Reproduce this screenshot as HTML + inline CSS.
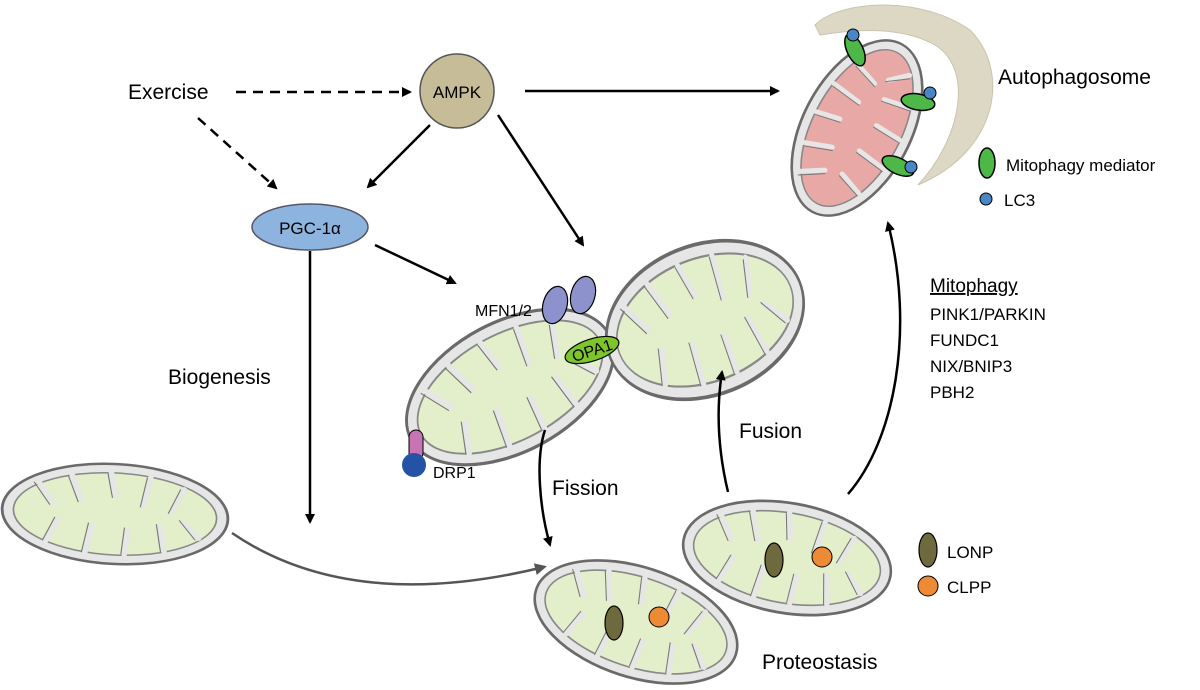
<!DOCTYPE html>
<html><head><meta charset="utf-8"><style>
html,body{margin:0;padding:0;background:#fff;}
svg{display:block;font-family:"Liberation Sans",Arial,sans-serif;}
</style></head><body>
<svg width="1200" height="690" viewBox="0 0 1200 690" xmlns="http://www.w3.org/2000/svg">
<defs>
<marker id="ah" markerWidth="10" markerHeight="10" refX="8" refY="5" orient="auto" markerUnits="userSpaceOnUse" viewBox="0 0 10 10"><path d="M0,0 L10,5 L0,10 z" fill="#000"/></marker>
<marker id="ahg" markerWidth="12" markerHeight="12" refX="9" refY="6" orient="auto" markerUnits="userSpaceOnUse" viewBox="0 0 12 12"><path d="M0,0 L12,6 L0,12 z" fill="#555"/></marker>
<g id="mito">
<ellipse cx="0" cy="0" rx="100" ry="50" fill="#e6e6e6" stroke="#6a6a6a" stroke-width="2.5"/>
<ellipse cx="0" cy="0" rx="90" ry="41" fill="var(--c,#e3eecb)" stroke="#888" stroke-width="1.5"/>
<g stroke="#e6e6e6" stroke-width="5" stroke-linecap="round" fill="none">
<path d="M-70,-30 L-55,-8"/><path d="M-40,-38 L-30,-12"/><path d="M-5,-41 L0,-18"/><path d="M30,-38 L25,-10"/><path d="M60,-28 L50,-5"/>
<path d="M-60,30 L-50,8"/><path d="M-25,40 L-20,12"/><path d="M10,40 L12,15"/><path d="M45,35 L40,10"/><path d="M75,20 L60,5"/>
</g>
<g stroke="#777" stroke-width="1" fill="none">
<path d="M-73,-28 L-58,-6"/><path d="M-43,-36 L-33,-10"/><path d="M-8,-40 L-3,-16"/><path d="M27,-38 L22,-8"/><path d="M57,-28 L47,-3"/>
<path d="M-63,30 L-53,6"/><path d="M-28,40 L-23,10"/><path d="M7,40 L9,13"/><path d="M42,36 L37,8"/><path d="M72,22 L57,3"/>
</g>
</g>
</defs>

<!-- autophagosome crescent -->
<path d="M815,25 C840,0 920,-5 970,30 C1010,70 1000,150 918,185 C960,140 975,70 935,45 C900,25 850,30 820,35 Z" fill="#ddd8c4" stroke="#c9c4b0" stroke-width="1"/>
<g transform="translate(857,128) rotate(-62) scale(0.95,1.08)" style="--c:#e8a9a6"><use href="#mito"/></g>
<!-- mediators -->
<ellipse cx="855" cy="50" rx="8" ry="17" transform="rotate(-25 855 50)" fill="#4db848" stroke="#000" stroke-width="1.5"/>
<circle cx="853" cy="35" r="6" fill="#4a86c5" stroke="#000" stroke-width="1"/>
<ellipse cx="918" cy="102" rx="17" ry="8" transform="rotate(10 918 102)" fill="#4db848" stroke="#000" stroke-width="1.5"/>
<circle cx="930" cy="93" r="6" fill="#4a86c5" stroke="#000" stroke-width="1"/>
<ellipse cx="898" cy="166" rx="17" ry="8" transform="rotate(25 898 166)" fill="#4db848" stroke="#000" stroke-width="1.5"/>
<circle cx="911" cy="167" r="6" fill="#4a86c5" stroke="#000" stroke-width="1"/>

<text x="998" y="84" font-size="21">Autophagosome</text>
<ellipse cx="987" cy="163" rx="8" ry="15" fill="#4db848" stroke="#000" stroke-width="1.5"/>
<text x="1006" y="171" font-size="17">Mitophagy mediator</text>
<circle cx="986" cy="199" r="6" fill="#4a86c5" stroke="#000" stroke-width="1"/>
<text x="1004" y="206" font-size="17">LC3</text>

<!-- left mito -->
<g transform="translate(115,514) rotate(3) scale(1.13,1.0)"><use href="#mito"/></g>
<!-- fusion pair -->
<g transform="translate(510,387) rotate(-28) scale(1.12,1.3)"><use href="#mito"/></g>
<g transform="translate(705,320) rotate(-22) scale(1.02,1.5)"><use href="#mito"/></g>
<ellipse cx="555" cy="305" rx="12" ry="19" transform="rotate(15 555 305)" fill="#8e92cc" stroke="#000" stroke-width="1.2"/>
<ellipse cx="583" cy="295" rx="12" ry="19" transform="rotate(15 583 295)" fill="#8e92cc" stroke="#000" stroke-width="1.2"/>
<ellipse cx="592" cy="350" rx="28" ry="11" transform="rotate(-18 592 350)" fill="#7dc52a" stroke="#000" stroke-width="1.2"/>
<text x="592" y="356" font-size="16" text-anchor="middle" transform="rotate(-18 592 350)">OPA1</text>
<text x="475" y="316" font-size="16">MFN1/2</text>
<rect x="409" y="430" width="14" height="30" rx="7" fill="#c774b3" stroke="#000" stroke-width="1"/>
<circle cx="414" cy="465" r="12" fill="#2452a5"/>
<text x="433" y="478" font-size="16">DRP1</text>

<!-- bottom mitos -->
<g transform="translate(636,622) rotate(18) scale(1.05,1.1)"><use href="#mito"/></g>
<ellipse cx="614" cy="623" rx="9" ry="17" fill="#6e6a3d" stroke="#000" stroke-width="1.2"/>
<circle cx="659" cy="617" r="10" fill="#ef8a34" stroke="#000" stroke-width="1"/>
<g transform="translate(787,558) rotate(10) scale(1.05,1.1)"><use href="#mito"/></g>
<ellipse cx="774" cy="560" rx="9" ry="17" fill="#6e6a3d" stroke="#000" stroke-width="1.2"/>
<circle cx="822" cy="557" r="10" fill="#ef8a34" stroke="#000" stroke-width="1"/>
<ellipse cx="928" cy="550" rx="9" ry="17" fill="#6e6a3d" stroke="#000" stroke-width="1.2"/>
<text x="947" y="558" font-size="17">LONP</text>
<circle cx="928" cy="586" r="10" fill="#ef8a34" stroke="#000" stroke-width="1"/>
<text x="947" y="593" font-size="17">CLPP</text>
<text x="762" y="669" font-size="21">Proteostasis</text>

<!-- nodes -->
<circle cx="457" cy="91" r="37" fill="#c6bc97" stroke="#555" stroke-width="1.5"/>
<text x="457" y="98" font-size="17" text-anchor="middle">AMPK</text>
<ellipse cx="310" cy="227" rx="58" ry="23" fill="#8db3df" stroke="#556" stroke-width="1.5"/>
<text x="310" y="234" font-size="17" text-anchor="middle">PGC-1α</text>
<text x="128" y="99" font-size="21">Exercise</text>
<text x="168" y="384" font-size="21">Biogenesis</text>
<text x="552" y="495" font-size="21">Fission</text>
<text x="739" y="438" font-size="21">Fusion</text>

<text x="930" y="292" font-size="19" text-decoration="underline">Mitophagy</text>
<text x="930" y="320" font-size="17">PINK1/PARKIN</text>
<text x="930" y="346" font-size="17">FUNDC1</text>
<text x="930" y="372" font-size="17">NIX/BNIP3</text>
<text x="930" y="398" font-size="17">PBH2</text>

<!-- arrows -->
<g stroke="#000" stroke-width="2.5" fill="none">
<line x1="236" y1="92" x2="410" y2="92" stroke-dasharray="10,7" marker-end="url(#ah)"/>
<line x1="198" y1="118" x2="276" y2="188" stroke-dasharray="10,7" marker-end="url(#ah)"/>
<line x1="430" y1="125" x2="368" y2="187" marker-end="url(#ah)"/>
<line x1="498" y1="115" x2="583" y2="245" marker-end="url(#ah)"/>
<line x1="525" y1="91" x2="778" y2="91" marker-end="url(#ah)"/>
<line x1="375" y1="245" x2="455" y2="283" marker-end="url(#ah)"/>
<line x1="310" y1="251" x2="310" y2="522" marker-end="url(#ah)"/>
<path d="M545,430 C535,460 540,510 550,545" marker-end="url(#ah)"/>
<path d="M728,492 C718,450 716,410 722,372" marker-end="url(#ah)"/>
<path d="M848,494 C895,440 915,330 888,223" marker-end="url(#ah)"/>
</g>
<path d="M232,533 C330,600 450,590 544,567" stroke="#555" stroke-width="2.5" fill="none" marker-end="url(#ahg)"/>
</svg>
</body></html>
